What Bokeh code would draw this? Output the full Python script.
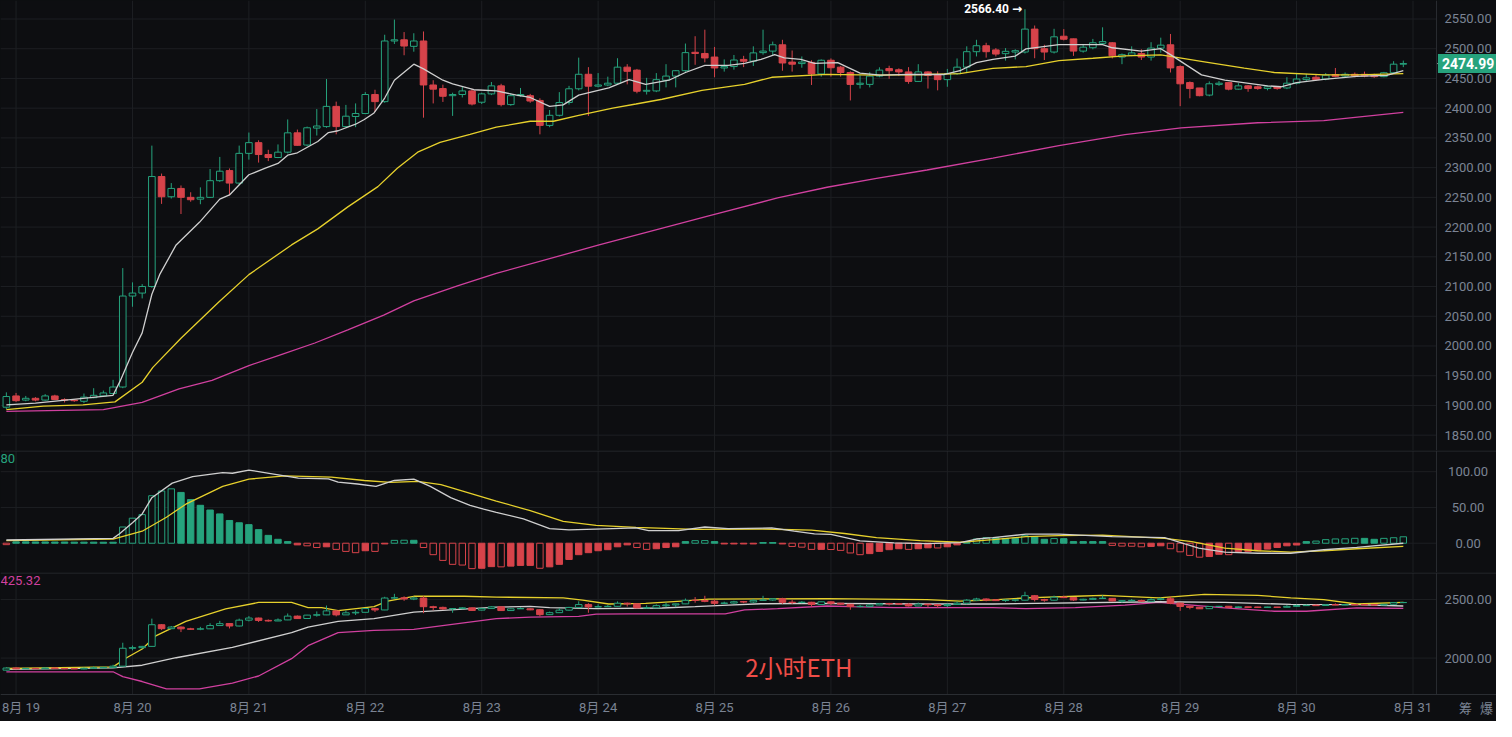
from bokeh.plotting import figure
from bokeh.layouts import column
from bokeh.models import Range1d, Label, ColumnDataSource, Span
from bokeh.core.properties import value
from bokeh.embed import file_html
from bokeh.resources import INLINE

# ---------------- data (2h candles, first = 8/18 22:00) ----------------
day_labels = ["8月 19", "8月 20", "8月 21", "8月 22", "8月 23", "8月 24", "8月 25",
              "8月 26", "8月 27", "8月 28", "8月 29", "8月 30", "8月 31"]
day_index = [1, 13, 25, 37, 49, 61, 73, 85, 97, 109, 121, 133, 145]

open_ = [1897, 1916, 1909, 1912, 1909, 1916, 1910, 1909, 1907, 1913, 1916, 1920,
         1931, 2084, 2089, 2100, 2285, 2251, 2265, 2250, 2247, 2250, 2278, 2295,
         2274, 2324, 2342, 2322, 2317, 2326, 2358.5, 2338, 2366.5, 2369, 2403, 2369,
         2386, 2391, 2423, 2411, 2513, 2515, 2504, 2513, 2439, 2433, 2421, 2423,
         2429, 2410, 2424, 2437.5, 2406, 2421, 2421, 2413, 2371, 2388, 2409.5, 2432.6,
         2457, 2437, 2439, 2442, 2469, 2464, 2428.5, 2429, 2447, 2454, 2463, 2494,
         2492, 2486, 2467.6, 2470, 2482, 2479, 2493.4, 2496, 2506.6, 2477.5, 2475, 2477,
         2457.6, 2480.6, 2469, 2460, 2440, 2440, 2454, 2466.6, 2464.6, 2461, 2445, 2461,
         2455.6, 2448, 2458, 2469, 2495, 2505, 2498, 2491.7, 2494.4, 2494.4, 2533, 2500,
         2494.4, 2521, 2516.6, 2496, 2501.7, 2509, 2510, 2486, 2489, 2492, 2486, 2501,
         2506.6, 2470, 2443, 2434, 2422, 2440, 2443, 2432, 2437.5, 2436, 2433, 2436,
         2434, 2442, 2448, 2452, 2449, 2456.6, 2454, 2457, 2457, 2456, 2453, 2459.6,
         2474]
high_ = [1922, 1921, 1916, 1914, 1919, 1918, 1912, 1910, 1920, 1929, 1925, 1943,
         2131, 2107, 2104, 2337, 2290, 2274, 2270, 2258.6, 2266.8, 2297.6, 2318, 2298.6,
         2337, 2359, 2346, 2330, 2339, 2381, 2364, 2369, 2398.5, 2449, 2411, 2405.5,
         2408, 2427, 2431, 2523.5, 2549, 2528, 2526, 2529, 2447, 2439.6, 2426, 2435.8,
         2432.5, 2426, 2444, 2441, 2425, 2434, 2424, 2416.6, 2397, 2427, 2437.5, 2485,
         2469, 2459, 2453, 2484, 2474, 2466, 2451, 2459, 2474, 2464, 2508.7, 2521,
         2532, 2503, 2482, 2489.5, 2488, 2504, 2532, 2512, 2515, 2497, 2487, 2480.6,
         2482, 2483.7, 2471, 2462, 2455, 2460.5, 2468.7, 2471.4, 2467, 2469, 2474, 2462,
         2462, 2466, 2483.6, 2504, 2515, 2510, 2501, 2501, 2499, 2566.4, 2539, 2506.6,
         2533.5, 2533, 2517, 2507, 2516.5, 2536, 2511, 2492, 2504, 2499, 2511, 2518.6,
         2524.8, 2472, 2445, 2434, 2445, 2445.7, 2444, 2442, 2439, 2438, 2438, 2437,
         2452, 2457.6, 2457.6, 2457.6, 2459, 2467.6, 2460, 2460, 2461.5, 2458, 2461, 2479,
         2480]
low_ = [1894, 1906, 1907, 1907, 1908, 1909, 1905, 1906, 1904, 1912, 1915, 1919,
        1929, 2066, 2080, 2098, 2239, 2248, 2222, 2242.6, 2238.4, 2249, 2276, 2253,
        2271, 2313.4, 2308.5, 2311, 2316, 2324, 2337, 2336, 2354, 2367, 2356, 2368,
        2368, 2390, 2394, 2409, 2508, 2489, 2495, 2384, 2408, 2410.5, 2387, 2418,
        2404.6, 2407, 2422, 2403, 2404, 2419, 2409, 2356, 2368, 2386, 2406, 2430,
        2387, 2435, 2437, 2440, 2440, 2425, 2423, 2427, 2435, 2435, 2461, 2473,
        2477, 2452, 2461.5, 2464.8, 2469, 2471, 2490, 2489, 2463, 2461.5, 2468, 2439,
        2453, 2453, 2453, 2413, 2433, 2435, 2452, 2449.5, 2454, 2441, 2444, 2433,
        2430, 2436, 2456, 2459, 2487, 2485, 2487, 2480, 2482, 2492, 2484, 2481,
        2492, 2514, 2488, 2493.4, 2499, 2507, 2483.6, 2474, 2487.5, 2481, 2480, 2493.4,
        2460, 2403.4, 2416.6, 2420, 2420, 2437.5, 2430, 2431, 2427.6, 2431, 2430, 2431,
        2432, 2440, 2446, 2446, 2447, 2452, 2452, 2452, 2452, 2451, 2452, 2458,
        2469]
close_ = [1915, 1908, 1912, 1909, 1916, 1910, 1909, 1908, 1914, 1917, 1921, 1931,
          2084, 2089, 2100, 2285, 2251, 2265, 2250, 2246, 2250, 2278, 2294, 2274,
          2324, 2342, 2322, 2317, 2326, 2358.5, 2337.5, 2367, 2370, 2403, 2369, 2386.5,
          2391, 2423, 2411, 2513, 2515, 2504.5, 2513, 2439, 2432, 2420, 2423, 2429,
          2407, 2424, 2437.5, 2406, 2421, 2423, 2412, 2371, 2388, 2409.5, 2432.6, 2457,
          2437, 2439, 2442, 2469, 2462, 2428.5, 2430, 2448, 2454, 2463, 2493.4, 2492,
          2484.5, 2467.6, 2470, 2481, 2479, 2493, 2496, 2506.6, 2476, 2474, 2477.5, 2457.6,
          2480.6, 2468, 2460, 2440, 2442, 2454, 2464, 2463, 2461, 2445, 2461, 2455,
          2448, 2458, 2469, 2495, 2505, 2495, 2491, 2495.6, 2496.7, 2533, 2500, 2494.4,
          2520, 2516, 2496, 2502.6, 2510, 2512, 2488, 2490, 2493, 2486, 2501, 2506,
          2467.7, 2441, 2433, 2421, 2441, 2442, 2432, 2437.5, 2433, 2433, 2436, 2433,
          2442, 2449, 2451, 2448, 2455.6, 2453.5, 2457, 2454, 2454, 2453, 2459.6, 2474,
          2474.99]

# moving averages (candle index, value)
ma_fast_i = [0, 3, 11, 11.7, 13, 14, 15, 15.8, 17.5, 19.9, 22, 23, 25, 26.7, 28, 29, 30, 32.1, 33.2,
             34.2, 36, 36.9, 37.9, 39, 40, 42, 43, 45, 46, 48.2, 50.5, 52.6, 54, 56, 57.4, 59, 60.8,
             62.1, 64.2, 65.9, 68.3, 70, 72, 74.4, 76.1, 77.8, 79.2, 80.2, 81.9, 83.3, 85.7, 88,
             90.1, 93.2, 96.6, 98.3, 100, 101.7, 104, 105.1, 108.5, 113, 114, 117, 119, 120,
             123.2, 125.6, 130, 131.4, 133, 135.8, 139.2, 142.3, 144]
ma_fast_v = [1901, 1904, 1917, 1940, 1989, 2022, 2087, 2120, 2170, 2208, 2247, 2254, 2288, 2299,
             2307, 2321, 2325, 2344, 2359, 2362, 2373, 2381, 2392, 2417, 2447, 2474, 2466, 2447,
             2441, 2431, 2429, 2422, 2418, 2403, 2405.6, 2422, 2429, 2434, 2448, 2440, 2447, 2460,
             2472, 2472, 2475.5, 2482, 2490, 2484.6, 2482, 2475.5, 2476.6, 2459, 2455.6, 2457,
             2456.6, 2463, 2476.6, 2482, 2487.5, 2499.7, 2507, 2507, 2501.6, 2496, 2500, 2490,
             2456, 2447, 2437.6, 2436, 2443, 2448.5, 2453.5, 2455, 2463]
ma_mid_i = [0, 3.8, 7.9, 11.2, 14, 15.1, 18, 21.9, 25, 29.4, 32.1, 35.2, 38.3, 40.3, 42.4, 44.7,
            47.8, 50.5, 54, 56.4, 59, 62.5, 64.9, 67.6, 71.7, 76.1, 78.9, 84.6, 89.7, 94.9, 98.3,
            101.7, 105.1, 108.5, 112, 115.3, 119, 120.8, 123.5, 127.6, 130.7, 135.8, 139.2, 144]
ma_mid_v = [1893, 1899, 1901, 1906, 1939, 1964, 2013, 2074, 2120, 2170, 2197, 2234, 2268, 2299,
            2326, 2342.5, 2356, 2368, 2378, 2378, 2388, 2400, 2407, 2415, 2430, 2440, 2452, 2457,
            2455.6, 2456.6, 2458, 2467, 2470, 2480, 2484, 2488, 2489.6, 2485, 2478, 2467.5,
            2460, 2456, 2456, 2458]
ma_slow_i = [0, 10, 14, 17.8, 21.2, 25, 28.4, 31.8, 35.2, 38.9, 42, 46.5, 50.5, 61.1, 72.4, 79.5,
             84.6, 89.7, 94.9, 101.7, 108.5, 115.3, 121.1, 129, 135.8, 144]
ma_slow_v = [1890, 1893, 1905, 1928, 1942, 1967, 1986, 2005, 2027, 2052, 2076, 2101, 2122, 2170,
             2219, 2249, 2267, 2282, 2296, 2316, 2337, 2355.5, 2367, 2375.5, 2379, 2393]

# MACD
macd_hist = [-2, 1.9, 1.9, 1.8, 1.8, 1.7, 1.7, 1.5, 1.5, 1.5, 1.4, 1.4,
             22.7, 35, 40, 66.4, 73, 76,
             71, 61, 53, 46.4, 41, 31.8, 28.6, 26, 19, 11, 5.5, 2.3,
             -2.3, -3.6, -6, -5, -8.6, -11.4, -13.2, -10.5, -11.4, -1,
             4, 4.2, 4.1,
             -6, -16, -24, -29.5, -30.5, -35.5, -35, -32.7,
             -33, -32, -31, -31, -35, -33, -29.5, -22.7, -16, -13.2, -10.5, -9, -5, -2.3,
             -6, -8.6, -7.7, -6, -5,
             2.3, 3.6, 3.7, 2.3,
             -1, -1, -1, -1,
             1, 1,
             -1, -4.5, -5.5, -8.6, -8.6, -8.8, -10, -13.6, -16, -14.5, -11.4, -9, -7.7, -8.6,
             -7.7, -6.4, -6.6, -5, -2.3,
             2, 5.9, 7.8, 7.7, 6.8, 6.8, 10.5, 9, 5.5, 6.5, 6.4, 2.3, 2.3, 2.3, 2.3,
             -3, -4, -4.2, -5, -4.5, -3.6, -7.7, -12, -17, -19.5, -18.6, -15.5, -16, -11.4,
             -11.4, -10.5, -8.2, -6, -3.6, -2.5,
             2.3, 3, 5, 6, 6.2, 6.9, 6.8, 5.5, 6.8, 7.7, 9]
dif_i = [0, 11, 11.7, 13, 14, 15, 17.1, 19.2, 22.3, 23.3, 25, 27.4, 30.1, 33.2, 34.2, 36.2, 38.1,
         40, 42, 43.7, 45.8, 47.8, 49.2, 50.5, 53.3, 56, 58, 62.5, 64.9, 66.2, 69.3, 72, 74.4,
         78.9, 81.2, 83.3, 85, 88, 91.5, 94.9, 98.3, 100, 101.7, 105.1, 108.5, 114, 119.4, 122.9,
         125.6, 129, 132.4, 135.8, 139.2, 144]
dif_v = [4.5, 6.8, 13.6, 28.6, 41, 63.7, 84, 93, 98.6, 97.8, 102.3, 96.9, 91, 90, 85.5, 82.8,
         79.5, 87.7, 89.6, 79.5, 63.7, 53, 47.7, 43.2, 34, 20.5, 18.7, 20.5, 21.4, 17.7, 17.7,
         22.7, 20.5, 21.4, 16.8, 13.2, 12.3, 3.2, 0.5, -0.5, 0.9, 5.9, 7.7, 12.7, 12.7, 9.1, 7.7,
         -6.8, -12.3, -14, -14, -9.1, -5.9, 0]
dea_i = [0, 11, 14, 16.5, 18.5, 22.3, 25, 28.7, 33.5, 36.9, 39.6, 42.4, 44.8, 50.5, 54, 57.4,
         60.8, 64.9, 71, 77.8, 83, 86.4, 89.7, 94.2, 98.3, 101.7, 105.1, 108.5, 113, 119.4,
         122.2, 125.6, 129, 132.4, 135.8, 139.2, 144]
dea_v = [3.6, 5.9, 16.8, 36.4, 54.6, 79.5, 89.6, 94, 92.3, 87.7, 85, 86.4, 81.9, 59, 45.5, 30.5,
         25, 22.3, 19.5, 19.9, 18.2, 13.6, 7.7, 3.6, 1.4, 5.0, 9.1, 10.5, 11.4, 6.8, 2.3, -6.8,
         -10.5, -12.3, -10.5, -7.7, -4.5]

# Bollinger bands
boll_up_i = [0, 11, 12.4, 14, 15.4, 18.5, 22.6, 26, 29.4, 31.1, 32.5, 34.2, 37.9, 39.3, 42, 47.2,
             50.5, 57.4, 59.4, 62.1, 65.9, 69.6, 72.4, 84.6, 94.9, 98.3, 101.7, 105.1, 110.2,
             113, 118.8, 123.5, 129, 132.4, 135.8, 139.2, 144]
boll_up_v = [1911, 1925, 2003, 2078, 2189, 2314, 2420, 2475, 2475, 2431, 2431, 2406, 2439, 2487,
             2528, 2528, 2521, 2514, 2495, 2462, 2467, 2487, 2503, 2508, 2500, 2487, 2497, 2514,
             2528, 2536, 2514, 2545, 2536, 2514, 2500, 2462, 2475]
boll_mid_i = [0, 11, 14, 17.5, 23.3, 29.4, 31.1, 34.2, 37.9, 42, 50.5, 54, 56, 60.8, 67.6, 71,
              74.4, 77.8, 84.6, 94.9, 101.7, 118.8, 125.6, 132.4, 139.2, 144]
boll_mid_v = [1903, 1917, 1939, 2003, 2092, 2217, 2264, 2314, 2337, 2392, 2435, 2441, 2431, 2422,
              2428, 2439, 2453, 2464, 2467, 2462, 2462, 2481, 2475, 2459, 2456, 2445]
boll_lo_i = [0, 11, 12, 14, 16.5, 19.9, 23.3, 26, 29.4, 31.1, 34.2, 37.9, 42, 50.5, 54, 59, 60.8,
             64.2, 74.1, 76.1, 79.5, 84.6, 87, 91.5, 98.3, 101.7, 105.1, 110.2, 115.3, 118.8,
             122.2, 125.6, 130.7, 134, 139.2, 144]
boll_lo_v = [1883, 1883, 1842, 1800, 1737, 1737, 1787, 1847, 1995, 2106, 2217, 2237, 2245, 2337,
             2350, 2356, 2375, 2378, 2378, 2411, 2422, 2445, 2439, 2431, 2431, 2431, 2422, 2431,
             2453, 2475, 2453, 2428, 2400, 2400, 2428, 2425]

main_ticks = [1850, 1900, 1950, 2000, 2050, 2100, 2150, 2200, 2250, 2300, 2350, 2400, 2450, 2500, 2550]
macd_ticks = [0, 50, 100]
boll_ticks = [2000, 2500]
side_icons = ["筹", "爆"]

# ---------------- style ----------------
BG = "#0d0e11"
GRID = "#1d1f23"
EDGE = "#2a2d32"
GREEN = "#26a37d"
RED = "#d6434a"
TXT = "#7b8494"
WHITE_L = "#cfcfcf"
YELLOW = "#e6d02c"
MAGENTA = "#d0409f"
NUMFONT = "Roboto"

PX = 9.701                 # pixels per candle
X0 = -0.604                # left edge of the chart
XDATA = 147.42             # right edge of the data area (axis strip to the right)
X1 = X0 + 1496 / PX        # right edge of the figure
XLAB = XDATA + 31.6 / PX   # centre of the price-axis labels
XR = Range1d(X0, X1)

n = len(close_)
idx = list(range(n))
is_up = [c >= o for o, c in zip(open_, close_)]
src = ColumnDataSource(dict(
    x=idx, o=open_, h=high_, l=low_, c=close_,
    top=[max(o, c) for o, c in zip(open_, close_)],
    bot=[min(o, c) for o, c in zip(open_, close_)],
    col=[GREEN if u else RED for u in is_up],
    fill=[BG if u else RED for u in is_up],
))


def make_fig(fh, ylo, yhi, pane_lo, yticks, top_sep=True):
    p = figure(frame_width=1496, frame_height=fh, x_range=XR, y_range=Range1d(ylo, yhi),
               output_backend="svg", toolbar_location=None,
               x_axis_location=None, y_axis_location=None,
               background_fill_color=BG, border_fill_color=BG,
               min_border_left=0, min_border_right=0, min_border_top=0, min_border_bottom=0)
    p.outline_line_color = None
    p.grid.visible = False
    # grid lines inside the data area
    p.segment(x0=[X0] * len(yticks), x1=[XDATA] * len(yticks), y0=yticks, y1=yticks,
              color=GRID, line_width=1)
    p.segment(x0=day_index, x1=day_index, y0=[pane_lo] * len(day_index),
              y1=[yhi] * len(day_index), color=GRID, line_width=1)
    # price-axis labels
    p.text(x=[XLAB] * len(yticks), y=yticks, text=["%.2f" % t for t in yticks],
           text_align="center", text_baseline="middle", text_color=TXT,
           text_font=value(NUMFONT), text_font_size="13px")
    # separators
    p.segment(x0=[XDATA], x1=[XDATA], y0=[pane_lo], y1=[yhi], color=EDGE, line_width=1)
    if top_sep:
        p.add_layout(Span(location=yhi - 0.5 * (yhi - ylo) / fh, dimension="width",
                          line_color=EDGE, line_width=1))
    return p


# ---------------- main price pane ----------------
p1 = make_fig(450, 1824.2, 2581.1, 1824.2, main_ticks, top_sep=False)
p1.segment(x0="x", y0="l", x1="x", y1="h", color="col", line_width=1, source=src)
p1.vbar(x="x", width=0.68, top="top", bottom="bot", fill_color="fill", line_color="col",
        line_width=1, source=src)
p1.line(ma_slow_i, ma_slow_v, color=MAGENTA, line_width=1.3)
p1.line(ma_mid_i, ma_mid_v, color=YELLOW, line_width=1.3)
p1.line(ma_fast_i, ma_fast_v, color=WHITE_L, line_width=1.3)

imax = high_.index(max(high_))
p1.add_layout(Label(x=imax, y=high_[imax], text="%.2f →" % high_[imax], text_align="right",
                    text_baseline="middle", x_offset=-3, text_color="#ffffff",
                    text_font="Roboto, 'DejaVu Sans'", text_font_size="12px",
                    text_font_style="bold"))
p1.segment(x0=[XDATA + 1 / PX], x1=[XDATA + 6 / PX], y0=[close_[-1]], y1=[close_[-1]],
           color="#ffffff", line_width=1)
p1.add_layout(Label(x=XLAB, y=close_[-1], text="%.2f" % close_[-1], text_align="center",
                    text_baseline="middle", text_color="#ffffff",
                    text_font=NUMFONT, text_font_size="14px", text_font_style="bold",
                    background_fill_color=GREEN, padding=4))

# ---------------- MACD pane ----------------
hist_fill = []
hist_col = []
for k, v in enumerate(macd_hist):
    prev = macd_hist[k - 1] if k > 0 else 0
    c = GREEN if v >= 0 else RED
    hist_col.append(c)
    hist_fill.append(BG if abs(v) > abs(prev) else c)
hsrc = ColumnDataSource(dict(x=idx, top=[max(v, 0) for v in macd_hist],
                             bot=[min(v, 0) for v in macd_hist], col=hist_col, fill=hist_fill))
p2 = make_fig(122, -40.9, 129.6, -40.9, macd_ticks)
p2.vbar(x="x", width=0.66, top="top", bottom="bot", fill_color="fill", line_color="col",
        line_width=1, source=hsrc)
p2.line(dea_i, dea_v, color=YELLOW, line_width=1.3)
p2.line(dif_i, dif_v, color=WHITE_L, line_width=1.3)
p2.text(x=[X0], y=[118.7], text=["80"], text_align="left", text_baseline="middle",
        text_color=GREEN, text_font=value(NUMFONT), text_font_size="13px")

# ---------------- Bollinger pane + time axis strip ----------------
BLO, BHI = 1689, 2731
UPX = (BHI - BLO) / 122.0
AX_LO = BLO - 27 * UPX
p3 = make_fig(149, AX_LO, BHI, BLO, boll_ticks)
p3.add_layout(Span(location=BLO, dimension="width", line_color=EDGE, line_width=1))
p3.line(boll_lo_i, boll_lo_v, color=MAGENTA, line_width=1.3)
p3.line(boll_mid_i, boll_mid_v, color=WHITE_L, line_width=1.3)
p3.line(boll_up_i, boll_up_v, color=YELLOW, line_width=1.3)
p3.segment(x0="x", y0="l", x1="x", y1="h", color="col", line_width=1, source=src)
p3.vbar(x="x", width=0.68, top="top", bottom="bot", fill_color="fill", line_color="col",
        line_width=1, source=src)
p3.text(x=[X0], y=[2664], text=["425.32"], text_align="left", text_baseline="middle",
        text_color=MAGENTA, text_font=value(NUMFONT), text_font_size="13px")
p3.text(x=[81.7], y=[1931], text=["2小时ETH"], text_align="center", text_baseline="middle",
        text_color="#ef4d47", text_font=value("Noto Sans CJK SC"), text_font_size="24px")
# time axis labels (first one nudged so it is not cut by the left edge)
yl = BLO - 12.5 * UPX
lab_src = ColumnDataSource(dict(x=day_index, y=[yl] * len(day_index), t=day_labels,
                                xo=[5] + [0] * (len(day_index) - 1)))
p3.text(x="x", y="y", text="t", x_offset="xo", text_align="center",
        text_baseline="middle", text_color=TXT,
        text_font=value("Roboto, 'Noto Sans CJK SC'"), text_font_size="13px", source=lab_src)
p3.text(x=[XDATA + 29 / PX, XDATA + 50 / PX], y=[yl, yl], text=side_icons, text_align="center",
        text_baseline="middle", text_color=TXT, text_font=value("Noto Sans CJK SC"),
        text_font_size="13px")

layout = column(p1, p2, p3, spacing=0, styles={"background-color": BG})
open("out.html", "w").write(file_html(layout, INLINE))
